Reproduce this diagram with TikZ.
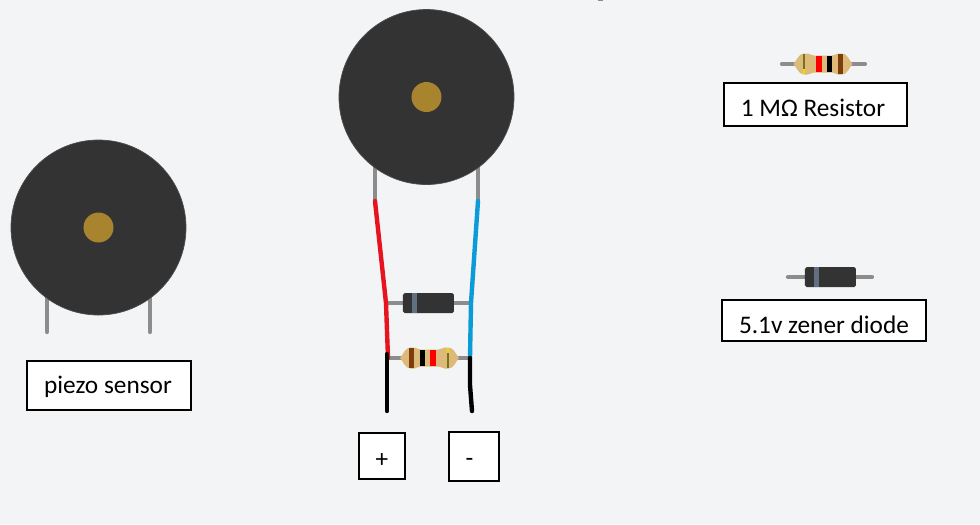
\documentclass[tikz,border=0pt]{standalone}
\usepackage{fontspec}
\setmainfont{Carlito}
\definecolor{bgcol}{HTML}{F3F4F6}
\definecolor{bodycol}{HTML}{333333}
\definecolor{leadcol}{HTML}{8C8C8C}
\definecolor{discdot}{HTML}{A9842F}
\definecolor{wirered}{HTML}{E5141E}
\definecolor{wireblue}{HTML}{0A9BD8}
\definecolor{tancol}{HTML}{DDB97A}
\definecolor{browncol}{HTML}{7C3F0C}
\definecolor{bandcol}{HTML}{607080}
\tikzset{
	lead/.style={line width=1.2pt,leadcol,line cap=round},
	wire/.style={line width=1.25pt,line cap=round,line join=round},
	labelbox/.style={draw=black,fill=white,line width=0.45pt,font=\fontsize{7.2pt}{8pt}\selectfont,inner sep=0pt,text depth=0.05cm},
	disc/.style={circle,draw=black!70,fill=bodycol,line width=0.2pt,minimum size=1.75cm,inner sep=0pt},
	discdotted/.style={circle,fill=discdot,minimum size=0.3cm,inner sep=0pt},
	resistorbody/.pic={
		\fill[tancol] (-.295,0) .. controls (-.265,.03) and (-.245,.105) .. (-.19,.105)
			-- (-.15,.105) .. controls (-.13,.105) and (-.12,.085) .. (-.09,.085) -- (.09,.085)
			.. controls (.12,.085) and (.13,.105) .. (.15,.105) -- (.19,.105)
			.. controls (.245,.105) and (.265,.03) .. (.295,0)
			.. controls (.265,-.03) and (.245,-.105) .. (.19,-.105)
			-- (.15,-.105) .. controls (.13,-.105) and (.12,-.085) .. (.09,-.085) -- (-.09,-.085)
			.. controls (-.12,-.085) and (-.13,-.105) .. (-.15,-.105) -- (-.19,-.105)
			.. controls (-.245,-.105) and (-.265,-.03) .. (-.295,0) -- cycle;
		\fill[browncol] (-.205,-.102) rectangle (-.155,.102);
		\fill[black] (-.095,-.08) rectangle (-.045,.08);
		\fill[red] (.005,-.08) rectangle (.065,.08);
		\fill[olive!80!black] (.175,-.1) rectangle (.195,.05);
		\fill[yellow!80!olive] (.175,.05) rectangle (.195,.1);
	},
	diodebody/.pic={
		\fill[bodycol,rounded corners=.5pt] (-.255,-.1) rectangle (.255,.1);
		\fill[bandcol] (-.165,-.1) rectangle (-.115,.1);
	}
}
\begin{document}
\begin{tikzpicture}
	\useasboundingbox[fill=bgcol] (0,0) rectangle (9.8,-5.24);
	\fill[leadcol] (5.98,0) rectangle (6.03,-0.012);
	% left sensor
	\coordinate (sa) at (0.47,-2.9);
	\coordinate (sb) at (0.47,-3.32);
	\coordinate (sc) at (1.5,-2.9);
	\coordinate (sd) at (1.5,-3.32);
	\draw[lead] (sa)--(sb);
	\draw[lead] (sc)--(sd);
	\node[disc] (sensor) at (0.985,-2.275) {};
	\node[discdotted] (sensordot) at (sensor) {};
	\node[labelbox,text height=0.2cm,minimum width=1.64cm,minimum height=0.49cm] (sensorlabel) at (1.09,-3.855) {piezo sensor\kern0.02cm};
	% joints of the circuit
	\coordinate (pa) at (3.75,-1.6);
	\coordinate (pb) at (3.75,-2.01);
	\coordinate (pc) at (4.78,-1.6);
	\coordinate (pd) at (4.78,-2.01);
	\coordinate (da) at (3.86,-3.03);
	\coordinate (db) at (4.71,-3.03);
	\coordinate (ra) at (3.88,-3.58);
	\coordinate (rb) at (4.70,-3.58);
	\coordinate (ea) at (3.87,-4.11);
	\coordinate (eb) at (4.70,-3.85);
	\coordinate (ec) at (4.72,-4.11);
	\draw[lead] (pa)--(pb);
	\draw[lead] (pc)--(pd);
	\node[disc] (piezo) at (4.265,-0.97) {};
	\node[discdotted] (piezodot) at (piezo) {};
	\draw[lead,line cap=butt] (da)--(db);
	\draw[lead,line cap=butt] (ra)--(rb);
	\draw[wire,wirered] (pb)--(da)--(ra);
	\draw[wire,wireblue] (pd)--(db)--(rb);
	\draw[wire,black] (3.87,-3.54)--(ea);
	\draw[wire,black] (rb)--(eb)--(ec);
	\pic (diodea) at (4.285,-3.03) {diodebody};
	\pic (resa) at (4.295,-3.58) {resistorbody};
	\node[labelbox,text height=0.27cm,minimum width=0.46cm,minimum height=0.46cm] (plus) at (3.82,-4.56) {+};
	\node[labelbox,text height=0.24cm,minimum width=0.5cm,minimum height=0.49cm] (minus) at (4.74,-4.565) {-\kern0.09cm};
	% parts on the right
	\coordinate (rla) at (7.82,-0.64);
	\coordinate (rlb) at (8.65,-0.64);
	\draw[lead] (rla)--(rlb);
	\pic[rotate=180] (resb) at (8.23,-0.64) {resistorbody};
	\node[labelbox,text height=0.28cm,minimum width=1.83cm,minimum height=0.43cm] (reslabel) at (8.155,-1.045) {1 MΩ Resistor\kern0.05cm};
	\coordinate (dla) at (7.88,-2.77);
	\coordinate (dlb) at (8.72,-2.77);
	\draw[lead] (dla)--(dlb);
	\pic (diodeb) at (8.305,-2.77) {diodebody};
	\node[labelbox,text height=0.3cm,minimum width=2.04cm,minimum height=0.41cm] (diodelabel) at (8.24,-3.205) {5.1v zener diode};
\end{tikzpicture}
\end{document}
